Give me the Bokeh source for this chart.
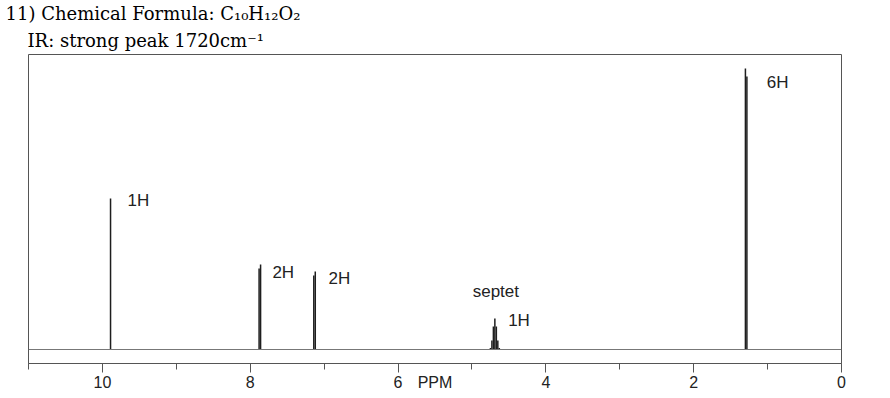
from bokeh.plotting import figure
from bokeh.models import Range1d, FixedTicker, Span, ColumnDataSource, Title
from bokeh.core.properties import value
from bokeh.embed import file_html
from bokeh.resources import INLINE

# ---- data ----
title_line1 = "11) Chemical Formula: C\u2081\u2080H\u2081\u2082O\u2082"
title_line2 = "IR: strong peak 1720cm\u207b\u00b9"

# peak positions (ppm) and intensities (arbitrary units)
shifts = [9.89, 7.88, 7.86, 7.14, 7.12,
          4.75, 4.73, 4.71, 4.69, 4.67, 4.65, 4.63,
          1.30, 1.28]
heights = [151, 81, 85, 74, 78,
           1.5, 9, 23, 31, 23, 9, 1.5,
           281, 273]

# integration / multiplicity annotations
ann_text = ["1H", "2H", "2H", "septet", "1H", "6H"]
ann_x = [9.66, 7.70, 6.94, 4.99, 4.51, 1.01]
ann_y = [149, 77, 71, 58, 29, 267]

major_ticks = [0, 2, 4, 6, 8, 10]
minor_ticks = [1, 3, 5, 7, 9, 11]
baseline = 0

p = figure(frame_width=813, frame_height=309,
           x_range=Range1d(11, 0), y_range=Range1d(-14, 295),
           output_backend="svg", toolbar_location=None,
           y_axis_location=None, title_location=None,
           min_border_left=28, min_border_right=33,
           min_border_top=0, min_border_bottom=0)

p.grid.visible = False
p.outline_line_color = "#555555"
p.outline_line_width = 1
p.background_fill_color = "white"
p.border_fill_color = "white"

ax = p.xaxis[0]
ax.ticker = FixedTicker(ticks=major_ticks, minor_ticks=minor_ticks)
ax.axis_line_color = "#555555"
ax.major_tick_line_color = "#555555"
ax.minor_tick_line_color = "#555555"
ax.major_tick_out = 9
ax.major_tick_in = 0
ax.minor_tick_out = 6
ax.minor_tick_in = 0
ax.major_label_text_font = "Liberation Sans"
ax.major_label_text_font_size = "16px"
ax.major_label_text_color = "#222222"
ax.major_label_standoff = 3
ax.axis_label = "PPM"
ax.axis_label_text_font = "Liberation Sans"
ax.axis_label_text_font_size = "16px"
ax.axis_label_text_font_style = "normal"
ax.axis_label_text_color = "#222222"
ax.axis_label_standoff = -17

p.add_layout(Span(location=baseline, dimension="width",
                  line_color="#777777", line_width=1))

src = ColumnDataSource(dict(x=shifts, y=heights))
p.segment(x0="x", y0=baseline, x1="x", y1="y", source=src,
          line_color="#1e1e1e", line_width=1.5)

p.text(x=ann_x, y=ann_y, text=ann_text,
       text_font=value("Liberation Sans"), text_font_size="17px",
       text_baseline="middle", text_align="left", text_color="#222222")

# header lines (first added sits nearest the frame)
p.add_layout(Title(text=title_line2, align="left", offset=-1,
                   text_font="DejaVu Serif", text_font_size="18px",
                   text_font_style="normal", text_color="black",
                   standoff=7), "above")
p.add_layout(Title(text=title_line1, align="left", offset=-23,
                   text_font="DejaVu Serif", text_font_size="18px",
                   text_font_style="normal", text_color="black",
                   standoff=1), "above")

open("out.html", "w").write(file_html(p, INLINE))
